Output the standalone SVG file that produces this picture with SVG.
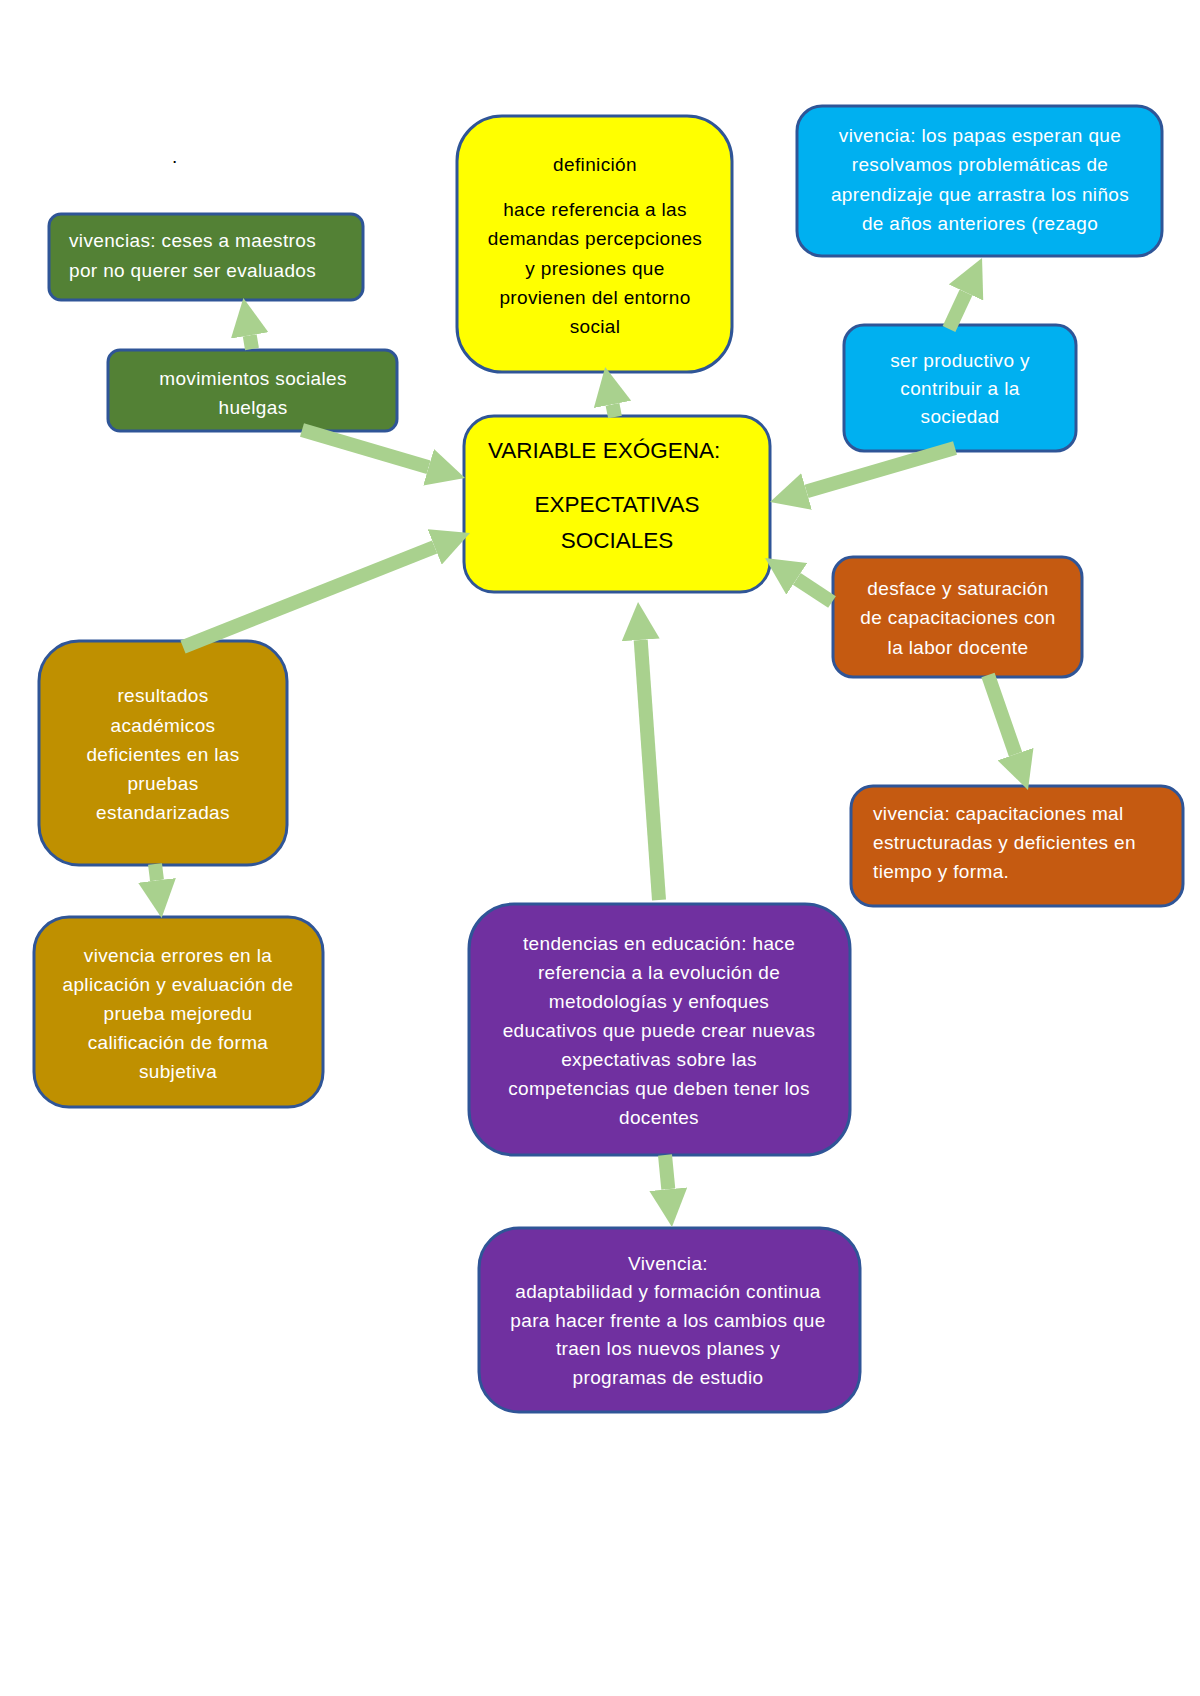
<svg xmlns="http://www.w3.org/2000/svg" width="1200" height="1696" viewBox="0 0 1200 1696">
<style>
.box{stroke:#2F5597;stroke-width:3}
.t{font-family:"Liberation Sans",Arial,sans-serif;font-size:19px;letter-spacing:0.35px}
.w{fill:#FFFFFF}
.k{fill:#000000}
.c{text-anchor:middle}
.big{font-family:"Liberation Sans",Arial,sans-serif;font-size:22.5px;fill:#000000}
.arr{stroke:#A9D18E;stroke-width:14;fill:none;marker-end:url(#ah)}
</style>
<defs>
<marker id="ah" viewBox="0 0 38 38" refX="0" refY="19" markerWidth="38" markerHeight="38" markerUnits="userSpaceOnUse" orient="auto">
<path d="M0,0 L38,19 L0,38 z" fill="#A9D18E"/>
</marker>
</defs>
<rect width="1200" height="1696" fill="#FFFFFF"/>
<text x="172" y="163" class="t k">.</text>

<g id="n-vivencias-ceses">
<rect x="49" y="214" width="314" height="86" rx="12" class="box" fill="#538135"/>
<text class="t w" x="69" y="247">vivencias: ceses a maestros</text>
<text class="t w" x="69" y="277">por no querer ser evaluados</text>
</g>

<g id="n-movimientos">
<rect x="108" y="350" width="289" height="81" rx="12" class="box" fill="#538135"/>
<text class="t w c" x="253" y="385">movimientos sociales</text>
<text class="t w c" x="253" y="414">huelgas</text>
</g>

<g id="n-definicion">
<rect x="457" y="116" width="275" height="256" rx="45" class="box" fill="#FFFF00"/>
<text class="t k c" x="595" y="171">definición</text>
<text class="t k c" x="595" y="216">hace referencia a las</text>
<text class="t k c" x="595" y="245">demandas percepciones</text>
<text class="t k c" x="595" y="275">y presiones que</text>
<text class="t k c" x="595" y="304">provienen del entorno</text>
<text class="t k c" x="595" y="333">social</text>
</g>

<g id="n-vivencia-papas">
<rect x="797" y="106" width="365" height="150" rx="25" class="box" fill="#00B0F0"/>
<text class="t w c" x="980" y="142">vivencia: los papas esperan que</text>
<text class="t w c" x="980" y="171">resolvamos problemáticas de</text>
<text class="t w c" x="980" y="201">aprendizaje que arrastra los niños</text>
<text class="t w c" x="980" y="230">de años anteriores (rezago</text>
</g>

<g id="n-productivo">
<rect x="844" y="325" width="232" height="126" rx="20" class="box" fill="#00B0F0"/>
<text class="t w c" x="960" y="367">ser productivo y</text>
<text class="t w c" x="960" y="395">contribuir a la</text>
<text class="t w c" x="960" y="423">sociedad</text>
</g>

<g id="n-central">
<rect x="464" y="416" width="306" height="176" rx="30" class="box" fill="#FFFF00"/>
<text class="big" x="488" y="458">VARIABLE EXÓGENA:</text>
<text class="big c" x="617" y="512">EXPECTATIVAS</text>
<text class="big c" x="617" y="548">SOCIALES</text>
</g>

<g id="n-desface">
<rect x="833" y="557" width="249" height="120" rx="20" class="box" fill="#C55A11"/>
<text class="t w c" x="958" y="595">desface y saturación</text>
<text class="t w c" x="958" y="624">de capacitaciones con</text>
<text class="t w c" x="958" y="654">la labor docente</text>
</g>

<g id="n-vivencia-capacitaciones">
<rect x="851" y="786" width="332" height="120" rx="22" class="box" fill="#C55A11"/>
<text class="t w" x="873" y="820">vivencia: capacitaciones mal</text>
<text class="t w" x="873" y="849">estructuradas y deficientes en</text>
<text class="t w" x="873" y="878">tiempo y forma.</text>
</g>

<g id="n-resultados">
<rect x="39" y="641" width="248" height="224" rx="40" class="box" fill="#BF9000"/>
<text class="t w c" x="163" y="702">resultados</text>
<text class="t w c" x="163" y="732">académicos</text>
<text class="t w c" x="163" y="761">deficientes en las</text>
<text class="t w c" x="163" y="790">pruebas</text>
<text class="t w c" x="163" y="819">estandarizadas</text>
</g>

<g id="n-vivencia-errores">
<rect x="34" y="917" width="289" height="190" rx="35" class="box" fill="#BF9000"/>
<text class="t w c" x="178" y="962">vivencia errores en la</text>
<text class="t w c" x="178" y="991">aplicación y evaluación de</text>
<text class="t w c" x="178" y="1020">prueba mejoredu</text>
<text class="t w c" x="178" y="1049">calificación de forma</text>
<text class="t w c" x="178" y="1078">subjetiva</text>
</g>

<g id="n-tendencias">
<rect x="469" y="904" width="381" height="251" rx="45" class="box" fill="#7030A0"/>
<text class="t w c" x="659" y="950">tendencias en educación: hace</text>
<text class="t w c" x="659" y="979">referencia a la evolución de</text>
<text class="t w c" x="659" y="1008">metodologías y enfoques</text>
<text class="t w c" x="659" y="1037">educativos que puede crear nuevas</text>
<text class="t w c" x="659" y="1066">expectativas sobre las</text>
<text class="t w c" x="659" y="1095">competencias que deben tener los</text>
<text class="t w c" x="659" y="1124">docentes</text>
</g>

<g id="n-vivencia-adaptabilidad">
<rect x="479" y="1228" width="381" height="184" rx="40" class="box" fill="#7030A0"/>
<text class="t w c" x="668" y="1270">Vivencia:</text>
<text class="t w c" x="668" y="1298">adaptabilidad y formación continua</text>
<text class="t w c" x="668" y="1327">para hacer frente a los cambios que</text>
<text class="t w c" x="668" y="1355">traen  los nuevos planes y</text>
<text class="t w c" x="668" y="1384">programas de estudio</text>
</g>

<g id="connectors">
<path class="arr" d="M252,349 L249.7,335.4"/>
<path class="arr" d="M302,430 L428.6,467.3"/>
<path class="arr" d="M183,647 L434.7,547"/>
<path class="arr" d="M155,864 L157,880.4"/>
<path class="arr" d="M615,417 L612.5,404.3"/>
<path class="arr" d="M949,329 L966,292.5"/>
<path class="arr" d="M955,448 L806.5,491.4"/>
<path class="arr" d="M832,602 L796.8,578.8"/>
<path class="arr" d="M988,675 L1015.5,754.1"/>
<path class="arr" d="M659,900 L640.7,639.9"/>
<path class="arr" d="M665,1155 L668.3,1189.2"/>
</g>
</svg>
